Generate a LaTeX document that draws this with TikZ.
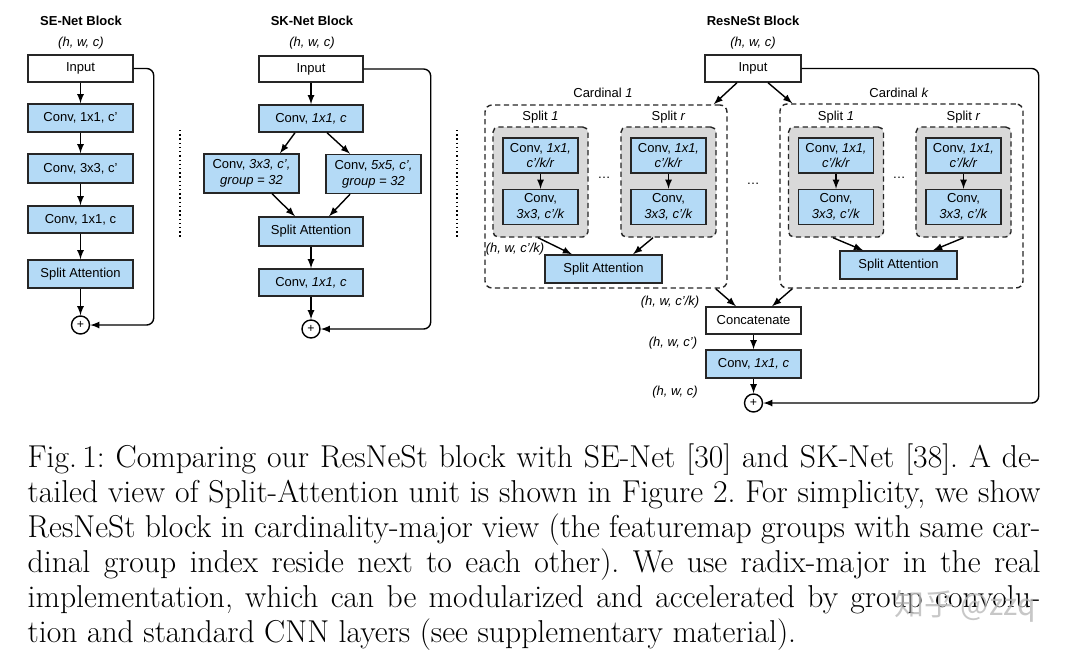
\documentclass[tikz,border=0pt]{standalone}
\usepackage{fontspec}
\setsansfont{Liberation Sans}
\newfontfamily\cjk{Noto Sans CJK SC}
\definecolor{convblue}{RGB}{180,218,246}
\definecolor{splitgray}{RGB}{217,217,217}

\begin{document}
\begin{tikzpicture}[x=0.02cm, y=-0.02cm, >=latex, line width=0.8pt,
  wh/.style 2 args={minimum width=#1*0.02cm, minimum height=#2*0.02cm},
  whitebox/.style={draw=black!85, fill=white, inner sep=1pt, align=center,
    font=\sffamily\fontsize{7.4}{9}\selectfont},
  bluebox/.style={whitebox, fill=convblue},
  blocktitle/.style={font=\sffamily\bfseries\fontsize{7.4}{9}\selectfont},
  dims/.style={font=\sffamily\itshape\fontsize{7.4}{9}\selectfont},
  tag/.style={font=\sffamily\fontsize{7.4}{9}\selectfont},
  addnode/.style={draw, circle, fill=white, minimum size=0.36cm, inner sep=0pt,
    font=\sffamily\fontsize{7}{8}\selectfont},
  cardbox/.style={draw=black!85, dash pattern=on 3pt off 2pt, rounded corners=4pt},
  splitbox/.style={draw=black!85, fill=splitgray, dash pattern=on 3pt off 2pt,
    rounded corners=3pt, wh={95}{110}},
  sep/.style={dash pattern=on 0.8pt off 1.6pt, line width=1pt},
  skip/.style={->, rounded corners=4pt},
  figcaption/.style={anchor=north west, inner sep=0pt, align=left,
    font=\fontsize{18}{19.9}\selectfont\frenchspacing}]
\fill[white] (0,0) rectangle (1070,653);
\useasboundingbox (0,0) rectangle (1070,653);

% SE-Net block
\node[blocktitle] (seTitle) at (81,21) {SE-Net Block};
\node[dims] (seDims) at (81,43) {(h, w, c)};
\node[whitebox, wh={105}{27}] (seIn) at (80.5,68.5) {Input};
\node[bluebox, wh={105}{28}] (seC1) at (80.5,118) {Conv, 1x1, c'};
\node[bluebox, wh={105}{29}] (seC2) at (80.5,168.5) {Conv, 3x3, c'};
\node[bluebox, wh={105}{27}] (seC3) at (80.5,219.5) {Conv, 1x1, c};
\node[bluebox, wh={105}{28}] (seSA) at (80.5,274) {Split Attention};
\node[addnode] (sePlus) at (80.5,325) {+};
\foreach \a/\b in {seIn/seC1, seC1/seC2, seC2/seC3, seC3/seSA, seSA/sePlus}
  \draw[->] (\a) -- (\b);
\draw[skip] (seIn.east) -- ++(20,0) |- (sePlus);

\draw[sep] (180,130) -- (180,237);

% SK-Net block
\node[blocktitle] (skTitle) at (312,21) {SK-Net Block};
\node[dims] (skDims) at (312,43) {(h, w, c)};
\node[whitebox, wh={104}{26}] (skIn) at (311,69) {Input};
\node[bluebox, wh={104}{27}] (skC1) at (311,118.5) {Conv, \textit{1x1, c}};
\node[bluebox, wh={95}{39}] (skB1) at (251.5,173.5) {Conv, \textit{3x3, c',}\\\textit{group = 32}};
\node[bluebox, wh={95}{39}] (skB2) at (373.5,174) {Conv, \textit{5x5, c',}\\\textit{group = 32}};
\node[bluebox, wh={104}{29}] (skSA) at (311,231.5) {Split Attention};
\node[bluebox, wh={104}{27}] (skC2) at (311,282.5) {Conv, \textit{1x1, c}};
\node[addnode] (skPlus) at (311,329) {+};
\foreach \a/\b in {skIn/skC1, skSA/skC2, skC2/skPlus}
  \draw[->] (\a) -- (\b);
\draw[->] ([xshift=-0.32cm]skC1.south) -- ([xshift=0.57cm]skB1.north);
\draw[->] ([xshift=0.32cm]skC1.south) -- ([xshift=-0.47cm]skB2.north);
\draw[->] ([xshift=0.41cm]skB1.south) -- ([xshift=-0.32cm]skSA.north);
\draw[->] ([xshift=-0.47cm]skB2.south) -- ([xshift=0.36cm]skSA.north);
\draw[skip] (skIn.east) -- ++(67,0) |- (skPlus);

\draw[sep] (457,130) -- (457,237);

% ResNeSt block
\node[blocktitle] (rnTitle) at (753,21) {ResNeSt Block};
\node[dims] (rnDims) at (753,43) {(h, w, c)};
\node[whitebox, wh={96}{27}] (rnIn) at (753,68.5) {Input};

% cardinal groups
\node[cardbox, wh={242}{183}] (card1) at (606,196.5) {};
\node[cardbox, wh={243}{184}] (cardK) at (901.5,196) {};
\node[tag] (card1Lab) at (603,93) {Cardinal \textit{1}};
\node[tag] (cardKLab) at (899,93) {Cardinal \textit{k}};

% splits
\foreach \n/\x/\s in {a/540.5/1, b/668.5/r, c/836/1, d/963.5/r} {
  \node[splitbox] (split\n) at (\x,182) {};
  \node[tag] (splitLab\n) at (\x,117) {Split \textit{\s}};
  \node[bluebox, wh={75}{35}] (top\n) at (\x,155.5) {Conv, \textit{1x1,}\\\textit{c'/k/r}};
  \node[bluebox, wh={75}{35}] (bot\n) at (\x,207) {Conv,\\\textit{3x3, c'/k}};
  \draw[->] (top\n) -- (bot\n);
}
\node[tag] (dots1) at (604,178) {\dots};
\node[tag] (dotsK) at (899,178) {\dots};
\node[tag] (dotsMid) at (753,184) {\dots};

\node[bluebox, wh={117}{28}] (saA) at (603.5,269) {Split Attention};
\node[bluebox, wh={117}{28}] (saK) at (898.5,265) {Split Attention};
\node[dims] (dimsA) at (515,249) {(h, w, c'/k)};
\draw[->] ([xshift=-0.05cm]splita.south) -- ([xshift=-0.63cm]saA.north);
\draw[->] ([xshift=-0.31cm]splitb.south) -- ([xshift=0.59cm]saA.north);
\draw[->] ([xshift=-0.06cm]splitc.south) -- ([xshift=-0.71cm]saK.north);
\draw[->] (splitd.south) -- ([xshift=0.69cm]saK.north);

\draw[->] ([xshift=-0.32cm]rnIn.south) -- ([xshift=-0.28cm]card1.north east);
\draw[->] ([xshift=0.30cm]rnIn.south) -- ([xshift=0.26cm]cardK.north west);

% merge
\node[whitebox, wh={95}{27}] (rnCat) at (753.5,320.5) {Concatenate};
\node[bluebox, wh={95}{28}] (rnConv) at (753.5,364) {Conv, \textit{1x1, c}};
\node[addnode] (rnPlus) at (753.5,403) {+};
\node[dims] (dimsCat) at (670,302) {(h, w, c'/k)};
\node[dims] (dimsConv) at (673,343) {(h, w, c')};
\node[dims] (dimsOut) at (675,392) {(h, w, c)};
\draw[->] ([xshift=-0.24cm]card1.south east) -- ([xshift=-0.35cm]rnCat.north);
\draw[->] ([xshift=0.26cm]cardK.south west) -- ([xshift=0.37cm]rnCat.north);
\draw[->] (rnCat) -- (rnConv);
\draw[->] (rnConv) -- (rnPlus);
\draw[skip] (rnIn.east) -- ++(237,0) |- (rnPlus);

% caption
\node[figcaption] (cap) at (27,443) {%
\makebox[20.26cm][s]{Fig.\,1: Comparing our ResNeSt block with SE-Net [30] and SK-Net [38]. A de-}\\
\makebox[20.26cm][s]{tailed view of Split-Attention unit is shown in Figure 2. For simplicity, we show}\\
\makebox[20.26cm][s]{ResNeSt block in cardinality-major view (the featuremap groups with same car-}\\
\makebox[20.26cm][s]{dinal group index reside next to each other). We use radix-major in the real}\\
\makebox[20.26cm][s]{implementation, which can be modularized and accelerated by group convolu-}\\
tion and standard CNN layers (see supplementary material).};

% watermark
\node[font=\cjk\fontsize{17}{17}\selectfont, text=gray!55, text opacity=0.8] (mark) at (965,606) {知乎 @zzq};
\end{tikzpicture}
\end{document}
